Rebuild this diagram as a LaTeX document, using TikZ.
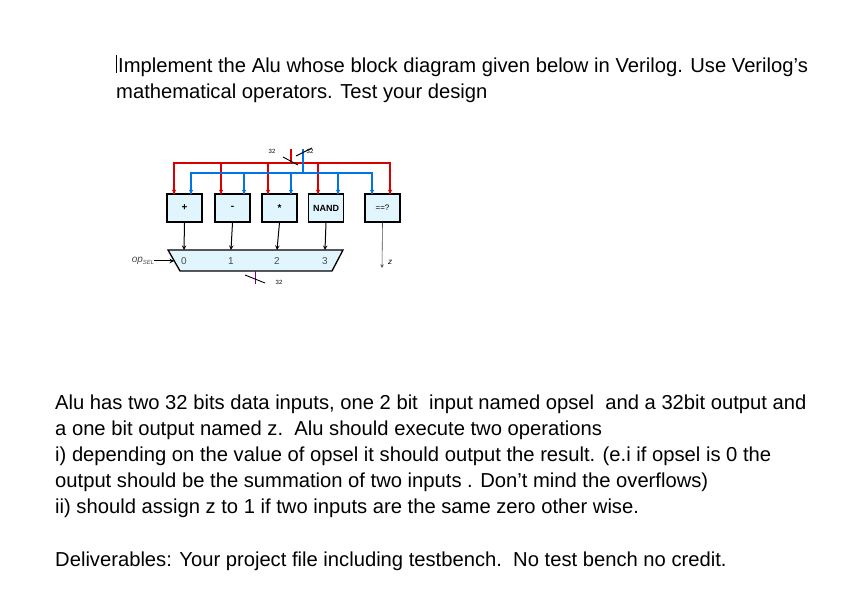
\documentclass[tikz,border=0pt]{standalone}
\usepackage{fontspec}
\setmainfont{Liberation Sans}
\begin{document}
\begin{tikzpicture}[x=1pt,y=-1pt,
  txt/.style={anchor=base west,inner sep=0,font=\fontsize{20.2}{24}\selectfont},
  opbox/.style={draw,line width=1.3pt,fill=cyan!12,minimum width=35,minimum height=28,inner sep=0,font=\fontsize{10}{11}\selectfont\bfseries},
  redl/.style={red!85!black,line width=1.1pt},
  bluel/.style={blue!50!cyan!90!black,line width=1.1pt},
  arr/.style={-stealth,line width=1pt},
  sm/.style={font=\fontsize{6}{7}\selectfont,inner sep=0}]
\useasboundingbox (0,0) rectangle (848,593);
\fill[white] (0,0) rectangle (848,593);
\draw[line width=0.8pt] (116,55) -- (116,73);
\node[txt] (t1) at (118,73) {Implement the Alu whose block diagram given below in Verilog. Use Verilog’s};
\node[txt] (t2) at (116,99) {mathematical operators. Test your design};
\node[txt] (t3) at (55,409) {Alu has two 32 bits data inputs, one 2 bit\ \ input named opsel\ \ and a 32bit output and};
\node[txt] (t4) at (55,435) {a one bit output named z.\ \ Alu should execute two operations};
\node[txt] (t5) at (55,461) {i) depending on the value of opsel it should output the result. (e.i if opsel is 0 the};
\node[txt] (t6) at (55,487) {output should be the summation of two inputs . Don’t mind the overflows)};
\node[txt] (t7) at (55,513) {ii) should assign z to 1 if two inputs are the same zero other wise.};
\node[txt] (t8) at (55,566) {Deliverables: Your project file including testbench.\ \ No test bench no credit.};
% boxes
\node[opbox] (b0) at (184.5,208) {+};
\node[opbox] (b1) at (232.5,208) {-};
\node[opbox] (b2) at (279.5,208) {*};
\node[opbox,font=\fontsize{9}{10}\selectfont\bfseries] (b3) at (326,208) {NAND};
\node[opbox,font=\fontsize{8}{9}\selectfont] (b4) at (382.5,208) {==?};
% buses
\coordinate (rin) at (291,149); \coordinate (bin) at (303,149);
\draw[redl] (rin) -- (291,163);
\draw[redl] (174,194) -- (174,163) -- (390,163) -- (390,194);
\foreach \x in {221,268,318} \draw[redl] (\x,163) -- (\x,194);
\draw[bluel] (bin) -- (303,173);
\draw[bluel] (191,194) -- (191,173) -- (372,173) -- (372,194);
\foreach \x in {244,291,338} \draw[bluel] (\x,173) -- (\x,194);
\foreach \x in {174,221,268,318,390} \fill[red!85!black] (\x-2,190) -- (\x+2,190) -- (\x,194) -- cycle;
\foreach \x in {191,244,291,338,372} \fill[blue!50!cyan!90!black] (\x-2,190) -- (\x+2,190) -- (\x,194) -- cycle;
\draw[line width=0.9pt] (283,157) -- (298,165);
\draw[line width=0.9pt] (296,156) -- (312,148);
\node[sm] (l32a) at (272,151) {32};
\node[sm] (l32b) at (310,151) {32};
% mux
\draw[line width=1.3pt,fill=cyan!12] (168,250) -- (343,250) -- (332,271) -- (180,271) -- cycle;
\coordinate (m0) at (184,250); \coordinate (m1) at (231,250); \coordinate (m2) at (277,250); \coordinate (m3) at (325,250);
\foreach \i in {0,1,2,3} \draw[arr] (b\i.south) -- (m\i);
\foreach \i/\x in {0/184,1/231,2/277,3/325} \node[font=\fontsize{10}{11}\selectfont,text=black!70,inner sep=0] (n\i) at (\x,261) {\i};
\node[inner sep=0,font=\fontsize{10}{11}\selectfont\itshape,text=black!70] (ops) at (143,261) {op\raisebox{-2pt}{\fontsize{6}{7}\selectfont SEL}};
\coordinate (mleft) at (174,261);
\draw[arr] (ops.east) -- (mleft);
\coordinate (mout) at (255,284);
\draw[violet,line width=0.8pt] (255,271) -- (mout);
\draw[line width=0.9pt] (245,275) -- (265,283);
\node[sm] (l32c) at (279,282) {32};
\coordinate (zend) at (382,268);
\draw[-stealth,black!70,line width=0.6pt] (b4.south) -- (zend);
\node[inner sep=0,font=\fontsize{8}{9}\selectfont\itshape] (z) at (390,262) {z};
\end{tikzpicture}
\end{document}
